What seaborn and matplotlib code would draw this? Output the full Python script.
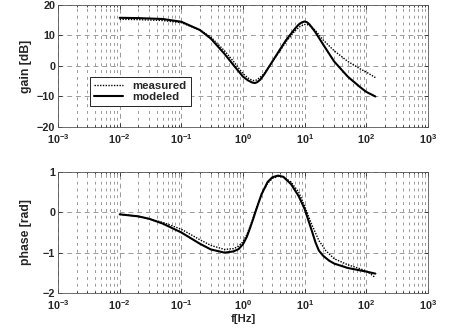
import numpy as np
import pandas as pd
import matplotlib
matplotlib.use("Agg")
import matplotlib.pyplot as plt
import seaborn as sns
from matplotlib.ticker import FixedLocator, NullFormatter

# ---- data ----
freq_gain_mod = [0.01, 0.02, 0.05, 0.1, 0.2, 0.3, 0.5, 0.7, 1.0, 1.2, 1.4, 1.55, 1.7, 1.9, 2.2,
                 3.0, 4.0, 5.0, 7.0, 8.0, 9.0, 10, 11, 12, 15, 20, 30, 50, 80, 100, 140]
gain_modeled = [15.8, 15.7, 15.4, 14.5, 11.8, 9.0, 4.0, 0.3, -3.5, -4.7, -5.4, -5.6, -5.3, -4.5,
                -2.8, 1.5, 5.5, 8.5, 12.3, 13.6, 14.3, 14.6, 14.3, 13.6, 11.0, 7.0, 1.5, -3.5,
                -7.0, -8.5, -10.0]
freq_gain_meas = [0.01, 0.02, 0.05, 0.1, 0.2, 0.3, 0.5, 0.7, 1.0, 1.2, 1.35, 1.5, 1.65, 1.85, 2.2,
                  3.0, 4.0, 5.0, 7.0, 8.5, 10, 11.5, 13, 15, 20, 30, 50, 80, 100, 140]
gain_measured = [15.3, 15.2, 14.9, 14.2, 11.8, 9.5, 5.0, 1.5, -2.5, -3.9, -4.5, -4.8, -4.6, -3.9,
                 -2.5, 1.5, 5.0, 8.0, 11.6, 13.0, 13.6, 13.5, 12.8, 11.6, 8.5, 5.0, 1.5, -1.0,
                 -2.0, -3.8]

freq_phase_mod = [0.01, 0.02, 0.03, 0.05, 0.1, 0.2, 0.3, 0.5, 0.7, 0.85, 1.0, 1.15, 1.3, 1.45,
                  1.6, 1.8, 2.0, 2.5, 3.0, 3.7, 4.5, 6.0, 8.0, 10, 13, 15, 17, 20, 25, 30, 50,
                  100, 140]
phase_modeled = [-0.05, -0.10, -0.16, -0.28, -0.50, -0.78, -0.92, -1.00, -0.97, -0.91, -0.79,
                 -0.61, -0.39, -0.18, 0.02, 0.25, 0.45, 0.75, 0.87, 0.91, 0.88, 0.70, 0.40, 0.08,
                 -0.45, -0.75, -0.95, -1.08, -1.20, -1.27, -1.38, -1.47, -1.52]
freq_phase_meas = [0.01, 0.02, 0.05, 0.1, 0.2, 0.3, 0.5, 0.7, 0.85, 1.0, 1.15, 1.3, 1.45, 1.6,
                   1.8, 2.0, 2.5, 3.0, 3.7, 4.5, 6.0, 8.0, 10, 13, 17, 22, 30, 50, 100, 140]
phase_measured = [-0.05, -0.10, -0.25, -0.42, -0.68, -0.82, -0.92, -0.90, -0.84, -0.73, -0.56,
                  -0.35, -0.15, 0.05, 0.27, 0.45, 0.72, 0.84, 0.89, 0.88, 0.75, 0.50, 0.15,
                  -0.30, -0.70, -0.95, -1.15, -1.30, -1.45, -1.62]

x_decades = [1e-3, 1e-2, 1e-1, 1e0, 1e1, 1e2, 1e3]
x_tick_labels = ["$10^{-3}$", "$10^{-2}$", "$10^{-1}$", "$10^{0}$", "$10^{1}$", "$10^{2}$", "$10^{3}$"]
gain_ticks = [-20, -10, 0, 10, 20]
phase_ticks = [-2, -1, 0, 1]
x_label = "f[Hz]"
gain_label = "gain [dB]"
phase_label = "phase [rad]"

# ---- style ----
sns.set_style("ticks")
plt.rcParams["font.family"] = ["Liberation Sans", "DejaVu Sans"]
plt.rcParams["font.weight"] = "bold"
plt.rcParams["mathtext.fontset"] = "custom"
plt.rcParams["mathtext.rm"] = "Liberation Sans:bold"
plt.rcParams["mathtext.it"] = "Liberation Sans:bold"
plt.rcParams["mathtext.bf"] = "Liberation Sans:bold"

fig = plt.figure(figsize=(4.74, 3.32), dpi=100)
ax1 = fig.add_axes([0.1224, 0.6175, 0.7806, 0.3675])
ax2 = fig.add_axes([0.1224, 0.1175, 0.7806, 0.3645])

df_gm = pd.DataFrame({"f": freq_gain_meas, "v": gain_measured})
df_gd = pd.DataFrame({"f": freq_gain_mod, "v": gain_modeled})
df_pm = pd.DataFrame({"f": freq_phase_meas, "v": phase_measured})
df_pd = pd.DataFrame({"f": freq_phase_mod, "v": phase_modeled})

sns.lineplot(data=df_gm, x="f", y="v", ax=ax1, color="black", linestyle=(0, (1, 1)),
             linewidth=1.0, label="measured")
sns.lineplot(data=df_gd, x="f", y="v", ax=ax1, color="black", linestyle="-",
             linewidth=1.5, label="modeled")
sns.lineplot(data=df_pm, x="f", y="v", ax=ax2, color="black", linestyle=(0, (1, 1)),
             linewidth=1.0)
sns.lineplot(data=df_pd, x="f", y="v", ax=ax2, color="black", linestyle="-",
             linewidth=1.5)

minor_x = [d * k for d in x_decades[:-1] for k in range(2, 10)]

for ax, yt, lab in [(ax1, gain_ticks, gain_label), (ax2, phase_ticks, phase_label)]:
    ax.set_xscale("log")
    ax.set_xlim(x_decades[0], x_decades[-1])
    ax.set_ylim(yt[0], yt[-1])
    ax.set_yticks(yt)
    ax.xaxis.set_major_locator(FixedLocator(x_decades))
    ax.set_xticklabels(x_tick_labels)
    ax.xaxis.set_minor_locator(FixedLocator(minor_x))
    ax.xaxis.set_minor_formatter(NullFormatter())
    ax.grid(True, which="major", axis="both", color="#9a9a9a", linestyle=(0, (5, 4)), linewidth=0.7)
    ax.grid(True, which="minor", axis="x", color="#9a9a9a", linestyle=(0, (3, 4)), linewidth=0.7)
    ax.tick_params(which="both", direction="in", top=True, right=True, labelsize=7.8,
                   width=0.6)
    ax.tick_params(axis="y", pad=2)
    ax.tick_params(axis="x", pad=4)
    ax.tick_params(which="major", length=3)
    ax.tick_params(which="minor", length=1.5)
    for sp in ax.spines.values():
        sp.set_linewidth(0.6)
        sp.set_color("#555555")
    ax.set_ylabel(lab, fontsize=8.8, fontweight="bold")
    ax.yaxis.set_label_coords(-0.07, 0.5)
    ax.set_xlabel("")
    for t in ax.get_yticklabels():
        t.set_fontweight("bold")

ax2.set_xlabel(x_label, fontsize=8.2, fontweight="bold", labelpad=1)

leg = ax1.legend(loc="lower left", bbox_to_anchor=(0.086, 0.17), fontsize=8.2, frameon=True,
                 fancybox=False, edgecolor="black", framealpha=1, borderpad=0.35,
                 handlelength=2.6, labelspacing=0.15, borderaxespad=0)
leg.get_frame().set_linewidth(0.6)
for t in leg.get_texts():
    t.set_fontweight("bold")

fig.savefig("out.png", dpi=100)
